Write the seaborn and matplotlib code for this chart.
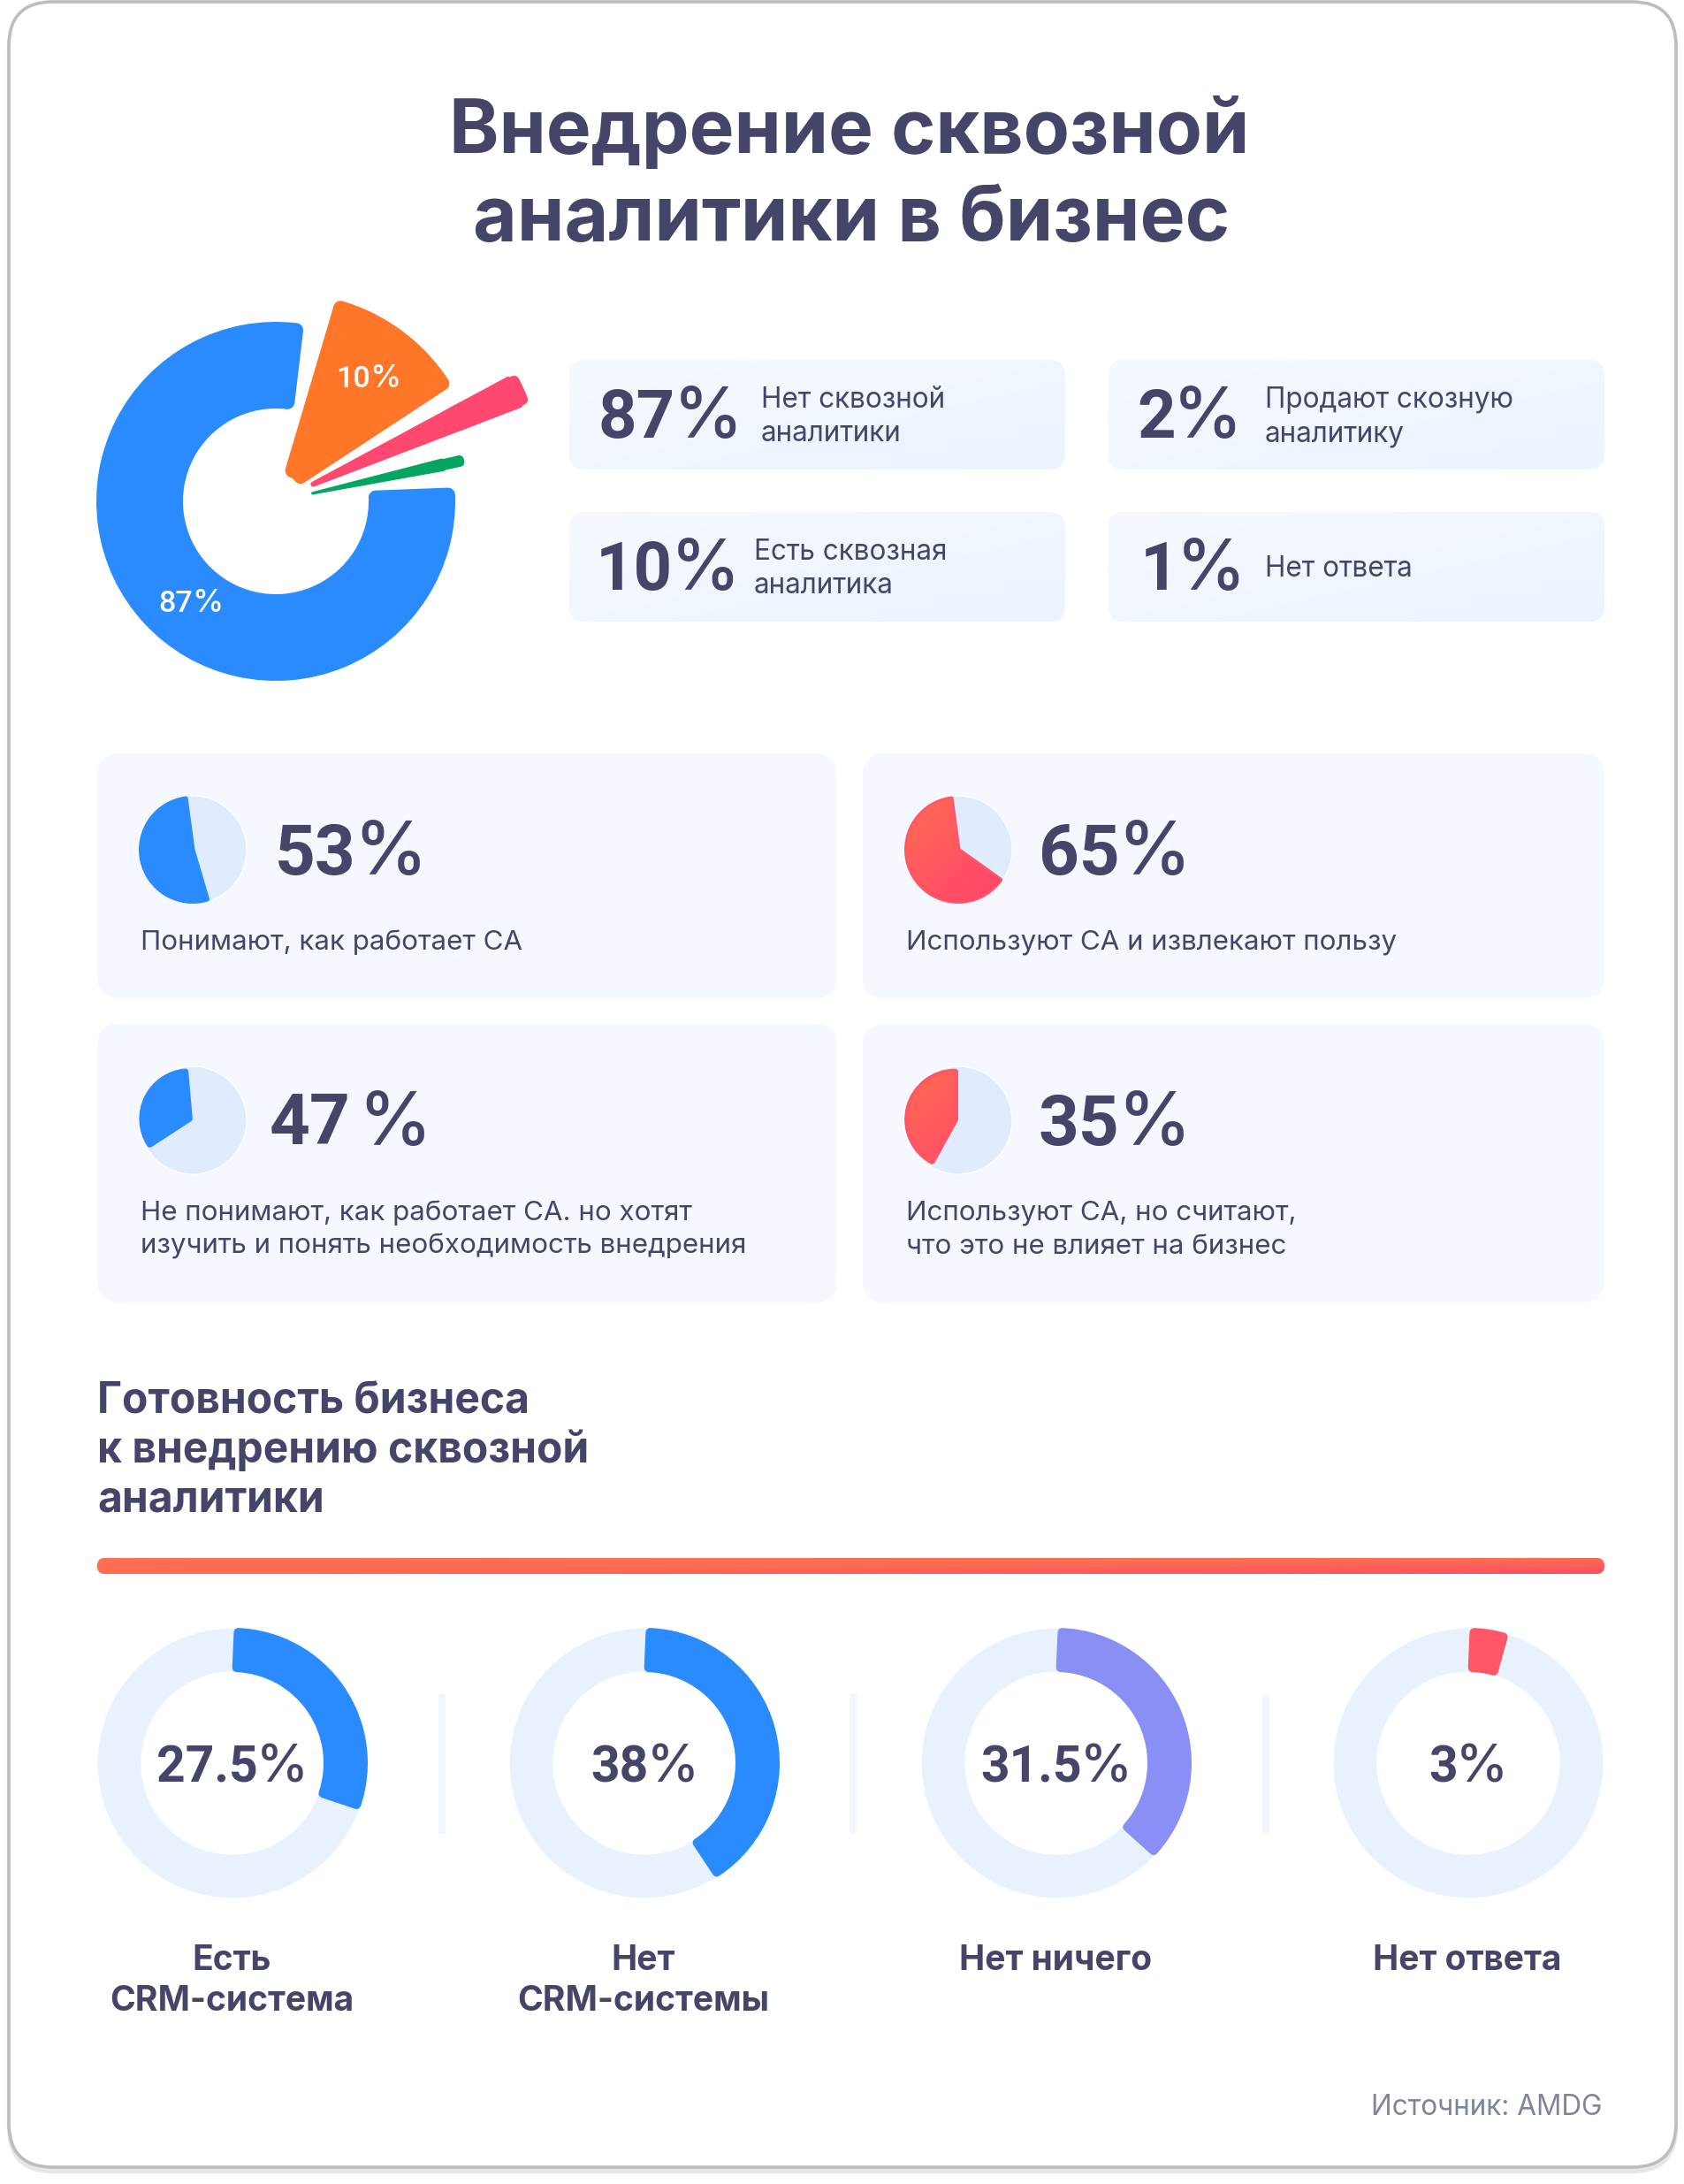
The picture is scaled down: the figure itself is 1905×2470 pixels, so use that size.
import math
import numpy as np
import seaborn as sns
import matplotlib
matplotlib.use('Agg')
import matplotlib.pyplot as plt
from matplotlib.patches import FancyBboxPatch

# values as printed, and the share each slice really takes on the picture (degrees)
main_values = [87, 10, 2, 1]
main_drawn = [285, 40.2, 7.4, 4.3]
main_labels = ["Нет сквозной\nаналитики", "Есть сквозная\nаналитика", "Продают скозную\nаналитику", "Нет ответа"]

card_values = ["53%", "65%", "47 %", "35%"]
card_drawn = [195, 233, 118, 151]
card_labels = ["Понимают, как работает СА",
               "Используют СА и извлекают пользу",
               "Не понимают, как работает СА. но хотят\nизучить и понять необходимость внедрения",
               "Используют СА, но считают,\nчто это не влияет на бизнес"]

ready_values = ["27.5%", "38%", "31.5%", "3%"]
ready_drawn = [111, 149, 134.5, 18]
ready_labels = ["Есть\nCRM-система", "Нет\nCRM-системы", "Нет ничего", "Нет ответа"]

title = "Внедрение сквозной\nаналитики в бизнес"
subtitle = "Готовность бизнеса\nк внедрению сквозной\nаналитики"
source = "Источник: AMDG"

W, H = 1906, 2470
INK = '#45456A'
BLUE = '#2A8BFF'
PALE = '#E8F2FF'
GREEN = '#03A560'
PINK = '#FF4870'
NUM_FONT = ['Roboto', 'DejaVu Sans']
red_map = sns.blend_palette(['#FF6C50', '#FF4070'], n_colors=64, as_cmap=True)
card_map = sns.blend_palette(['#F6F9FF', '#ECF4FF'], n_colors=64, as_cmap=True)
bar_map = sns.blend_palette(['#FF7050', '#FF6C50', '#FF4D66'], n_colors=64, as_cmap=True)

sns.set_theme(style='white')
plt.rcParams['font.family'] = ['Inter', 'DejaVu Sans']

fig = plt.figure(figsize=(W / 100, H / 100), dpi=100)
ax = fig.add_axes([0, 0, 1, 1])
renderer = fig.canvas.get_renderer()


def py(y):
    return H - y


def wedge(x, y, start, span, radius, inner=0, color=BLUE, corner=0, ccw=True):
    # start is measured clockwise from 12 o'clock, corner rounds the slice with a thick edge
    inset = math.degrees(corner / (radius * 0.75))
    s = 90 - start + (inset if ccw else -inset)
    drawn = span - 2 * inset
    width = None
    if inner:
        width = radius - inner - 2 * corner
    w, _ = ax.pie([drawn, 360 - drawn], center=(x, py(y)), radius=radius - corner, startangle=s,
                  counterclock=ccw, colors=[color, 'none'], wedgeprops=dict(width=width))
    w[0].set(edgecolor=color, linewidth=corner * 2 * 0.72, joinstyle='round')
    w[1].set_visible(False)
    return w[0]


def sliver(x, y, start, span, radius, inner, color, corner):
    # narrow clockwise slice: the centre slides out along the middle so the rounded edge stays on the true sides
    d = corner / math.sin(math.radians(span / 2))
    mid = math.radians(start + span / 2)
    cx2, cy2 = x + d * math.sin(mid), y - d * math.cos(mid)
    r2 = radius - corner - d
    in2 = inner + corner - d
    width = r2 - in2 if in2 > 0 else None
    w, _ = ax.pie([span, 360 - span], center=(cx2, py(cy2)), radius=r2, startangle=90 - start,
                  counterclock=False, colors=[color, 'none'], wedgeprops=dict(width=width))
    w[0].set(edgecolor=color, linewidth=corner * 2 * 0.72, joinstyle='round')
    w[1].set_visible(False)
    return w[0]


def disc(x, y, radius, inner=0, color=PALE):
    width = radius - inner if inner else None
    ax.pie([1], center=(x, py(y)), radius=radius, colors=[color], wedgeprops=dict(width=width))


def box(x0, y0, x1, y1, rounding, color='none', edge='none', lw=0, z=1):
    p = FancyBboxPatch((x0, py(y1)), x1 - x0, y1 - y0, boxstyle=f'round,pad=0,rounding_size={rounding}',
                       facecolor=color, edgecolor=edge, linewidth=lw, zorder=z)
    ax.add_patch(p)
    return p


def shade(patch, x0, y0, x1, y1, cmap, z=1.5):
    # diagonal gradient, clipped to the patch
    xx, yy = np.meshgrid(np.linspace(0, 1, 128), np.linspace(0, 1, 128))
    im = ax.imshow((xx + yy) / 2, extent=(x0, x1, py(y1), py(y0)), cmap=cmap, vmin=0, vmax=1,
                   aspect='auto', zorder=z, interpolation='bilinear')
    im.set_clip_path(patch)


def label(x, y, s, px, weight=400, color=INK, ha='left', z=5, family=None):
    return ax.text(x, py(y), s, fontsize=px * 0.72, fontweight=weight, color=color, ha=ha, va='baseline', zorder=z,
                   family=family or plt.rcParams['font.family'])


def pct(x, y, value, px, weight=600, color=INK, center=False):
    # the reference has narrow digits with a wide thin percent sign, so the two are set apart
    num = value.rstrip('%')
    gap = px * 0.11 if num.endswith(' ') else px * -0.035
    num = num.strip()
    a = label(x, y, num, px, weight, color, family=NUM_FONT)
    b = label(x, y, '%', px * 1.04, 500, color)
    w_a = a.get_window_extent(renderer).width
    w_b = b.get_window_extent(renderer).width
    left = x - (w_a + gap + w_b) / 2 if center else x
    a.set_x(left)
    b.set_x(left + w_a + gap)


# outer card
box(10, 6, 1896, 2456, 50, color='#EAEAEA', edge='#E6E6E6', lw=3, z=0.1)
box(10, 2, 1896, 2451, 50, color='white', edge='#BDBDBD', lw=2.6, z=0.2)

label(961, 173, title.split('\n')[0], 85.5, 700, ha='center')
label(963, 272, title.split('\n')[1], 86, 700, ha='center')

# main chart, the slices share one centre but not one radius
cx, cy = 312, 567
wedge(cx, cy, 9.8, main_drawn[0], 203, 105, BLUE, corner=8, ccw=True)
sliver(cx, cy, 16.5, main_drawn[1], 240, 32, '#FF7628', corner=8)
sliver(cx, cy, 61.7, main_drawn[2], 300, 33, PINK, corner=3)
wedge(cx, cy, 61.7, main_drawn[2], 308, 220, PINK, corner=6, ccw=False)
sliver(cx, cy, 75.5, main_drawn[3], 195, 38, GREEN, corner=1.6)
wedge(cx, cy, 75.5, main_drawn[3], 218, 170, GREEN, corner=5, ccw=False)
pct(417, 438, f"{main_values[1]}%", 34, 500, 'white', center=True)
pct(216, 692, f"{main_values[0]}%", 34, 500, 'white', center=True)

# stat cards to the right
stat_boxes = [(644, 407), (1254, 407), (644, 579), (1254, 579)]
stat_text = [(677, 861, 495), (1286, 1431, 495), (674, 853, 667), (1290, 1431, 667)]
for (x0, y0), (tx, dx, base), val, desc in zip(stat_boxes, stat_text, main_values[:1] + main_values[2:3] + main_values[1:2] + main_values[3:],
                                             main_labels[:1] + main_labels[2:3] + main_labels[1:2] + main_labels[3:]):
    p = box(x0, y0, x0 + 561, y0 + 124, 18, color='#F2F7FE')
    shade(p, x0, y0, x0 + 561, y0 + 124, card_map)
    pct(tx, base, f"{val}%", 76)
    lines = desc.split('\n')
    if len(lines) == 1:
        label(dx, base - 15, lines[0], 31.5)
    else:
        label(dx, base - 34, lines[0], 31.5)
        label(dx, base + 4, lines[1], 31.5)

# four middle cards
mid_boxes = [(110, 852, 947, 1129), (976, 852, 1815, 1129), (110, 1158, 947, 1473), (976, 1158, 1815, 1473)]
mid_pies = [(218, 961), (1084, 961), (218, 1267), (1084, 1267)]
mid_start = [-4.6, -4.6, -123, -151]
for i, (b, c) in enumerate(zip(mid_boxes, mid_pies)):
    box(*b, 25, color='#F5F8FF')
    disc(c[0], c[1], 61, color='#E0ECFE')
    if i < 2:
        w = wedge(c[0], c[1], mid_start[i], card_drawn[i], 61, color=BLUE, corner=2.5)
    else:
        w = sliver(c[0], c[1], mid_start[i], card_drawn[i], 61, 0, BLUE, corner=3.5)
    if i % 2 == 1:
        w.set(zorder=2, facecolor='#FF5566', edgecolor='#FF5566')
        shade(w, c[0] - 62, c[1] - 62, c[0] + 62, c[1] + 62, red_map, z=2.5)
    tx = b[0] + (201 if i % 2 == 0 else 199)
    if i == 2:
        tx -= 6
    pct(tx, c[1] + 27.5, card_values[i], 80)
    for k, line in enumerate(card_labels[i].split('\n')):
        label(b[0] + 49, c[1] + 113 + k * 38, line, 31.3)

# readiness block
for k, line in enumerate(subtitle.split('\n')):
    label(110, 1598.5 + k * 55.5, line, 48, 700)
bar = box(110, 1762, 1815, 1780, 9, color='#FF6C50')
shade(bar, 110, 1762, 1815, 1780, bar_map)

ring_x = [263, 729, 1195, 1661]
ring_y = 1994
ring_col = [BLUE, BLUE, '#8A8FF5', '#FF5765']
for i, x in enumerate(ring_x):
    disc(x, ring_y, 153, 103)
    wedge(x, ring_y, 0, ready_drawn[i], 153, 103, ring_col[i], corner=5, ccw=False)
    pct(x, 2015, ready_values[i], 57, center=True)
    for k, line in enumerate(ready_labels[i].split('\n')):
        label(x - 1, 2228 + k * 46, line, 39, 700, ha='center')

for x in (496, 961, 1428):
    box(x, 1915, x + 8, 2074, 4, color='#F0F5FE')

label(1813, 2392, source, 31.5, 400, color='#80859B', ha='right')

ax.set_xlim(0, W)
ax.set_ylim(0, H)
ax.set_aspect('auto')
ax.set_axis_off()
fig.savefig('out.png', dpi=100, facecolor='white')
